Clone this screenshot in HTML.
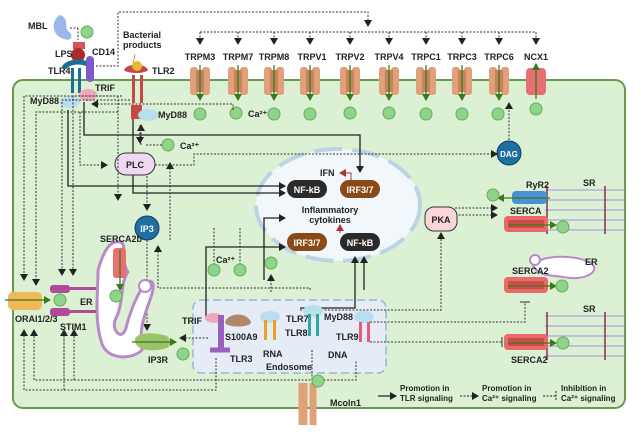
<!DOCTYPE html><html><head><style>body{margin:0;background:#fff}svg{display:block;font-family:"Liberation Sans",sans-serif;font-weight:bold}</style></head><body>
<svg width="641" height="432" viewBox="0 0 641 432" xmlns="http://www.w3.org/2000/svg">
<defs>
<marker id="a" markerWidth="8" markerHeight="8" refX="6" refY="4" orient="auto" markerUnits="userSpaceOnUse"><path d="M0,0L7,4L0,8z" fill="#222"/></marker>
<marker id="r" markerWidth="8" markerHeight="8" refX="6" refY="4" orient="auto" markerUnits="userSpaceOnUse"><path d="M0,0L7,4L0,8z" fill="#a33"/></marker>
<marker id="g" markerWidth="8" markerHeight="8" refX="6" refY="4" orient="auto" markerUnits="userSpaceOnUse"><path d="M0,0L7,4L0,8z" fill="#3a7a1a"/></marker>
<g id="ch"><rect x="-10" y="0" width="8" height="28" rx="3" fill="#e0a07a"/><rect x="2" y="0" width="8" height="28" rx="3" fill="#e0a07a"/><rect x="-4" y="3" width="8" height="22" fill="#c7835f"/></g>
<g id="ca"><circle r="6" fill="#8fd48a" stroke="#5fb05a"/></g>
<g id="serca"><rect x="-22" y="-8" width="44" height="16" rx="4" fill="#e86a6a"/><rect x="-18" y="-4" width="36" height="8" fill="#cc4c4c"/></g>
</defs>
<rect x="13" y="80" width="612" height="328" rx="10" fill="#dcf0d3" stroke="#6a9a50" stroke-width="2"/>
<ellipse cx="338" cy="205" rx="82" ry="56" fill="#f2f7fb"/>
<ellipse cx="338" cy="205" rx="82" ry="56" fill="none" stroke="#bcd3e6" stroke-width="4" stroke-dasharray="28 10"/>
<rect x="193" y="300" width="193" height="73" rx="8" fill="#e6ecf6" stroke="#9ab3d8" stroke-dasharray="8 4" stroke-width="1.5"/>
<g font-size="9" fill="#222">
<g stroke="#333" stroke-dasharray="2 1.5" fill="none" marker-end="url(#a)">
<path d="M96,66H118V12H368V26" marker-end="url(#a)"/>
</g>
<path d="M200,32H536" stroke="#333" stroke-dasharray="2 1.5" fill="none"/>
<g stroke="#333" stroke-dasharray="2 1.5" marker-end="url(#a)">
<line x1="200" y1="32" x2="200" y2="44"/><line x1="238" y1="32" x2="238" y2="44"/><line x1="274" y1="32" x2="274" y2="44"/><line x1="310" y1="32" x2="310" y2="44"/><line x1="350" y1="32" x2="350" y2="44"/><line x1="389" y1="32" x2="389" y2="44"/><line x1="426" y1="32" x2="426" y2="44"/><line x1="462" y1="32" x2="462" y2="44"/><line x1="499" y1="32" x2="499" y2="44"/><line x1="536" y1="32" x2="536" y2="44"/>
</g>
<g text-anchor="middle"><text x="200" y="60">TRPM3</text><text x="238" y="60">TRPM7</text><text x="274" y="60">TRPM8</text><text x="312" y="60">TRPV1</text><text x="350" y="60">TRPV2</text><text x="389" y="60">TRPV4</text><text x="426" y="60">TRPC1</text><text x="462" y="60">TRPC3</text><text x="499" y="60">TRPC6</text><text x="536" y="60">NCX1</text></g>
<g><use href="#ch" x="200" y="67"/><use href="#ch" x="238" y="67"/><use href="#ch" x="274" y="67"/><use href="#ch" x="310" y="67"/><use href="#ch" x="350" y="67"/><use href="#ch" x="389" y="67"/><use href="#ch" x="426" y="67"/><use href="#ch" x="462" y="67"/><use href="#ch" x="499" y="67"/></g>
<rect x="526" y="68" width="20" height="27" rx="4" fill="#e87070"/>
<g stroke="#3a7a1a" stroke-width="1.3" marker-end="url(#g)"><line x1="200" y1="65" x2="200" y2="100"/><line x1="238" y1="65" x2="238" y2="100"/><line x1="274" y1="65" x2="274" y2="100"/><line x1="310" y1="65" x2="310" y2="100"/><line x1="350" y1="65" x2="350" y2="100"/><line x1="389" y1="65" x2="389" y2="100"/><line x1="426" y1="65" x2="426" y2="100"/><line x1="462" y1="65" x2="462" y2="100"/><line x1="499" y1="65" x2="499" y2="100"/><line x1="536" y1="99" x2="536" y2="64"/></g>
<use href="#ca" x="200" y="114"/><use href="#ca" x="236" y="113"/><use href="#ca" x="274" y="114"/><use href="#ca" x="310" y="114"/><use href="#ca" x="350" y="113"/><use href="#ca" x="389" y="113"/><use href="#ca" x="426" y="114"/><use href="#ca" x="462" y="114"/><use href="#ca" x="498" y="114"/><use href="#ca" x="536" y="109"/>
<text x="248" y="117">Ca²⁺</text>
<path d="M60,15c-8,4-10,20,4,24c8,3,10,-4,4,-8c-4,-4,2,-12,-8,-16z" fill="#9cb8ea"/>
<text x="28" y="29">MBL</text>
<use href="#ca" x="87" y="32"/>
<path d="M70,28H78M78,28V40" stroke="#333" stroke-dasharray="2 1.5"/>
<rect x="73" y="42" width="12" height="7" fill="#d8545a"/>
<circle cx="78" cy="55" r="7" fill="#a82c2c"/>
<text x="55" y="57">LPS</text><text x="92" y="55">CD14</text>
<path d="M64,68c4,-8,24,-8,28,0" stroke="#1a6e9a" stroke-width="5" fill="none"/>
<rect x="86" y="56" width="8" height="26" rx="4" fill="#7a5cc8"/>
<text x="48" y="74">TLR4</text>
<rect x="71" y="68" width="3" height="25" fill="#1a6e9a"/><rect x="78" y="68" width="3" height="25" fill="#1a6e9a"/>
<ellipse cx="88" cy="95" rx="9" ry="6" fill="#f0a8b8"/><text x="95" y="91">TRIF</text>
<ellipse cx="70" cy="102" rx="10" ry="6" fill="#b8dcf0"/><text x="30" y="104">MyD88</text>
<text x="123" y="38">Bacterial</text><text x="123" y="48">products</text>
<path d="M134,54c3,4-3,6,0,10" stroke="#c8a040" fill="none"/>
<path d="M124,70c2,-7,22,-7,24,0c-3,4,-21,4,-24,0z" fill="#c84848"/>
<circle cx="137" cy="66" r="5" fill="#e8b830"/>
<text x="152" y="74">TLR2</text>
<rect x="132" y="75" width="3" height="28" fill="#c84848"/><rect x="140" y="75" width="3" height="28" fill="#c84848"/>
<rect x="131" y="105" width="11" height="14" fill="#c84848"/>
<ellipse cx="148" cy="115" rx="10" ry="6" fill="#b8dcf0"/><text x="158" y="118">MyD88</text>
<rect x="115" y="153" width="40" height="22" rx="11" fill="#eed8f4" stroke="#333"/><text x="135" y="168" text-anchor="middle">PLC</text>
<use href="#ca" x="168" y="145"/><text x="180" y="149">Ca²⁺</text>
<circle cx="147" cy="228" r="12" fill="#1f6fa3" stroke="#0e3f60"/><text x="147" y="232" text-anchor="middle" fill="#fff">IP3</text>
<circle cx="509" cy="153" r="12" fill="#1f6fa3" stroke="#0e3f60"/><text x="509" y="157" text-anchor="middle" fill="#fff" font-size="8">DAG</text>
<g stroke="#333" stroke-dasharray="2 1.5" fill="none" stroke-width="1">
<path d="M155,165H194V154H497" marker-end="url(#a)"/>
<path d="M509,140V103" marker-end="url(#a)"/>
<path d="M233,110V104H92" marker-end="url(#a)"/>
<path d="M141,145V125" marker-end="url(#a)"/>
<path d="M146,145H162"/>
<path d="M140,125V143" marker-end="url(#a)"/>
<path d="M80,112V165H107" marker-end="url(#a)"/>
<path d="M147,176V210" marker-end="url(#a)"/>
<path d="M170,240V163" marker-end="url(#a)"/>
<path d="M118,112H36V285" marker-end="url(#a)"/>
<path d="M122,96H24V280" marker-end="url(#a)"/>
<path d="M130,100H62V275" marker-end="url(#a)"/>
<path d="M112,96H73V275" marker-end="url(#a)"/>
<path d="M118,96V200" marker-end="url(#a)"/>
<path d="M147,240V330" marker-end="url(#a)"/>
<path d="M310,290V288H158V246" marker-end="url(#a)"/>
<path d="M208,338H180" marker-end="url(#a)"/>
<path d="M214,228V273" marker-end="url(#a)"/>
<path d="M240,228V273" marker-end="url(#a)"/>
<path d="M271,292V275" marker-end="url(#a)"/>
<path d="M216,358V390H24V330" marker-end="url(#a)"/>
<path d="M312,350V380H34V330" marker-end="url(#a)"/>
<path d="M320,380H356V360"/>
<path d="M64,380V330" marker-end="url(#a)"/><path d="M74,380V330" marker-end="url(#a)"/><path d="M64,390V330"/>
<path d="M300,310H441V233" marker-end="url(#a)"/>
<path d="M455,208H497" marker-end="url(#a)"/>
<path d="M455,215H497" marker-end="url(#a)"/>
<path d="M370,322H525V302"/>
<path d="M520,302H530" stroke-dasharray="none"/>
<path d="M370,342H502"/>
<path d="M502,337V347" stroke-dasharray="none"/>
</g>
<g stroke="#222" stroke-width="1.3" fill="none">
<path d="M68,110V186H285" marker-end="url(#a)"/>
<path d="M84,102V135H360V172" marker-end="url(#a)"/>
<path d="M133,175V193H285" marker-end="url(#a)"/>
<path d="M133,119V153"/>
<path d="M264,280V218H285" marker-end="url(#a)"/>
<path d="M206,318V247H285" marker-end="url(#a)"/>
<path d="M300,308H355V257" marker-end="url(#a)"/>
<path d="M364,290V257" marker-end="url(#a)"/>
</g>
<rect x="287" y="180" width="40" height="18" rx="9" fill="#2a2a2a"/><text x="307" y="193" fill="#fff" text-anchor="middle">NF-kB</text>
<rect x="340" y="180" width="40" height="18" rx="9" fill="#8a4a18"/><text x="360" y="193" fill="#fff" text-anchor="middle">IRF3/7</text>
<rect x="287" y="233" width="40" height="18" rx="9" fill="#8a4a18"/><text x="307" y="246" fill="#fff" text-anchor="middle">IRF3/7</text>
<rect x="340" y="233" width="40" height="18" rx="9" fill="#2a2a2a"/><text x="360" y="246" fill="#fff" text-anchor="middle">NF-kB</text>
<path d="M351,180V173H340" stroke="#a33" fill="none" marker-end="url(#r)"/><text x="320" y="176">IFN</text>
<path d="M340,233V225" stroke="#a33" marker-end="url(#r)"/>
<text x="330" y="213" text-anchor="middle">Inflammatory</text><text x="330" y="223" text-anchor="middle">cytokines</text>
<rect x="425" y="207" width="32" height="24" rx="9" fill="#fad6d8" stroke="#333"/><text x="441" y="223" text-anchor="middle">PKA</text>
<g stroke="#a890d8" stroke-width="1" fill="none">
<path d="M545,190H625M545,200H625M545,210H625M545,220H625M545,230H625"/>
<path d="M545,316H625M545,326H625M545,336H625M545,346H625M545,356H625"/>
</g>
<g stroke="#8a3050" stroke-width="1.5"><path d="M547,186V234M605,186V234M547,312V360M605,312V360"/></g>
<text x="583" y="186">SR</text><text x="583" y="312">SR</text>
<rect x="512" y="191" width="35" height="13" rx="4" fill="#4a90d8"/><text x="526" y="188">RyR2</text>
<path d="M550,198H498" stroke="#3a7a1a" stroke-width="1.3" marker-end="url(#g)"/><use href="#ca" x="493" y="195"/>
<use href="#serca" x="526" y="224"/><text x="510" y="214">SERCA</text>
<path d="M508,225H556" stroke="#3a7a1a" stroke-width="1.3" marker-end="url(#g)"/><use href="#ca" x="563" y="227"/>
<path d="M533,265c10,-12,50,-10,60,0c6,8,-10,16,-30,12c-10,-2,-25,0,-30,-12z" fill="#fff" stroke="#b88ac8" stroke-width="2"/>
<circle cx="535" cy="260" r="5" fill="#fff" stroke="#b88ac8" stroke-width="2"/><text x="585" y="265">ER</text>
<use href="#serca" x="526" y="285"/><text x="512" y="274">SERCA2</text>
<path d="M508,286H556" stroke="#3a7a1a" stroke-width="1.3" marker-end="url(#g)"/><use href="#ca" x="562" y="286"/>
<use href="#serca" x="526" y="342"/><text x="511" y="363">SERCA2</text>
<path d="M508,343H556" stroke="#3a7a1a" stroke-width="1.3" marker-end="url(#g)"/><use href="#ca" x="563" y="343"/>
<path d="M98,270c6,-20,12,-30,22,-28c8,2,0,20,8,30c-8,10,-4,30,-12,46c-6,12,6,24,10,10c4,-16,10,-30,16,-40c6,-10,14,-10,10,6c-6,18,-14,34,-10,56c-10,10,-34,10,-40,-6c-8,-24,-4,-50,-4,-74z" fill="#fff" stroke="#b88ac8" stroke-width="3"/>
<circle cx="145" cy="286" r="6" fill="#fff" stroke="#b88ac8" stroke-width="2"/>
<rect x="113" y="248" width="13" height="30" rx="3" fill="#e87070"/><text x="100" y="242">SERCA2b</text>
<path d="M120,250V290" stroke="#3a7a1a" stroke-width="1.3" marker-end="url(#g)"/><use href="#ca" x="116" y="296"/>
<path d="M135,340c0,-8,20,-8,32,-4c4,4,4,10,0,12c-12,4,-32,4,-32,-8z" fill="#9cc26a"/><text x="148" y="363">IP3R</text>
<path d="M132,342H176" stroke="#3a7a1a" stroke-width="1.3" marker-end="url(#g)"/><use href="#ca" x="183" y="354"/>
<rect x="8" y="292" width="34" height="18" rx="5" fill="#f0b858"/><path d="M5,300H50" stroke="#3a7a1a" stroke-width="1.3" marker-end="url(#g)"/>
<use href="#ca" x="60" y="300"/><text x="15" y="322">ORAI1/2/3</text>
<g fill="#b04a9a"><rect x="50" y="285" width="20" height="8" rx="3"/><rect x="50" y="308" width="20" height="8" rx="3"/><rect x="70" y="287" width="26" height="3"/><rect x="70" y="310" width="26" height="3"/></g>
<text x="80" y="305">ER</text><text x="60" y="330">STIM1</text>
<text x="216" y="263">Ca²⁺</text><use href="#ca" x="214" y="270"/><use href="#ca" x="240" y="270"/><use href="#ca" x="271" y="263"/>
<ellipse cx="214" cy="318" rx="9" ry="5" fill="#f0a8b8"/><text x="182" y="324">TRIF</text>
<rect x="218" y="315" width="6" height="33" fill="#9a60c0"/><path d="M210,350h20" stroke="#9a60c0" stroke-width="5"/><text x="230" y="362">TLR3</text>
<path d="M225,322c4,-10,22,-10,26,0c0,6,-26,6,-26,0z" fill="#b08868"/><text x="225" y="340">S100A9</text>
<ellipse cx="270" cy="317" rx="10" ry="6" fill="#b8dcf0"/><rect x="264" y="320" width="3" height="20" fill="#f0a020"/><rect x="273" y="320" width="3" height="20" fill="#f0a020"/><text x="285" y="336">TLR8</text><text x="263" y="357">RNA</text><text x="266" y="370">Endosome</text>
<ellipse cx="313" cy="311" rx="10" ry="6" fill="#b8e0ec"/><rect x="308" y="314" width="3" height="22" fill="#2aa8a8"/><rect x="316" y="314" width="3" height="22" fill="#2aa8a8"/><text x="286" y="322">TLR7</text>
<ellipse cx="364" cy="317" rx="10" ry="6" fill="#b8dcf0"/><text x="324" y="320">MyD88</text>
<rect x="359" y="322" width="3" height="20" fill="#e85a7a"/><rect x="367" y="322" width="3" height="20" fill="#e85a7a"/><text x="336" y="340">TLR9</text><text x="328" y="358">DNA</text>
<path d="M303,383V425" stroke="#e0a07a" stroke-width="9"/><path d="M313,383V425" stroke="#e0a07a" stroke-width="7"/><use href="#ca" x="318" y="381"/><text x="330" y="406">Mcoln1</text>
<path d="M378,396H396" stroke="#222" stroke-width="1.3" marker-end="url(#a)"/><text x="400" y="391" font-size="8">Promotion in</text><text x="400" y="401" font-size="8">TLR signaling</text>
<path d="M460,396H478" stroke="#222" stroke-dasharray="2 1.5" marker-end="url(#a)"/><text x="482" y="391" font-size="8">Promotion in</text><text x="482" y="401" font-size="8">Ca²⁺ signaling</text>
<path d="M543,396H556M556,391V401" stroke="#222" stroke-dasharray="2 1.5"/><text x="561" y="391" font-size="8">Inhibition in</text><text x="561" y="401" font-size="8">Ca²⁺ signaling</text>
</g>
</svg>
</body></html>
